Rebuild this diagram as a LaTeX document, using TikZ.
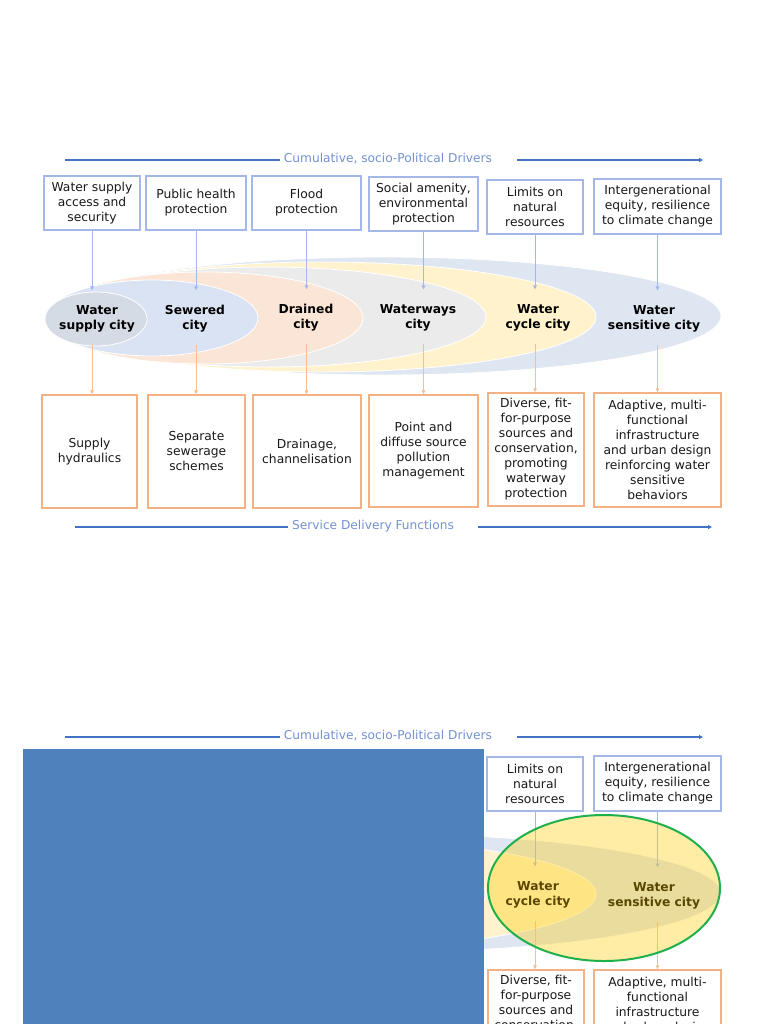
\documentclass[tikz,border=0pt]{standalone}
\usepackage{fontspec}
\setmainfont{DejaVu Sans}
\usetikzlibrary{arrows.meta}

\definecolor{flowblue}{HTML}{4472C4}
\definecolor{titleblue}{HTML}{7391D3}
\definecolor{driverline}{HTML}{A3B8E6}
\definecolor{serviceline}{HTML}{F4B183}
\definecolor{ringsensitive}{HTML}{DEE6F2}
\definecolor{ringcycle}{HTML}{FFF2CC}
\definecolor{ringwaterways}{HTML}{EBEBEB}
\definecolor{ringdrained}{HTML}{FBE5D6}
\definecolor{ringsewered}{HTML}{DAE3F3}
\definecolor{ringsupply}{HTML}{D5DBE5}
\definecolor{coverblue}{HTML}{4F81BD}
\definecolor{markgreen}{HTML}{1FAF4B}
\definecolor{markyellow}{HTML}{FFCC00}

\tikzset{
  boxtext/.style={font=\fontsize{12.3}{15}\selectfont, align=center, inner sep=0pt, text=black!90},
  driverbox/.style={boxtext, draw=driverline, line width=1.3pt, fill=white},
  servicebox/.style={boxtext, draw=serviceline, line width=1.3pt, fill=white},
  citylabel/.style={font=\bfseries\fontsize{12.3}{15}\selectfont, align=center, inner sep=1pt},
  ring/.style={draw=white, line width=0.8pt},
  flowline/.style={draw=flowblue, line width=1.5pt},
  flowtitle/.style={font=\fontsize{12.2}{14}\selectfont, text=titleblue, inner sep=4pt},
  driverarrow/.style={draw=driverline, line width=1pt, -{Triangle[length=4pt,width=3.5pt]}},
  servicearrow/.style={draw=serviceline!85, line width=1pt, -{Triangle[length=4pt,width=3.5pt]}},
}

\begin{document}
\begin{tikzpicture}[x=1pt,y=1pt,yscale=-1,xscale=1]

% Page
\clip (0,0) rectangle (768,1024);
\fill[white] (0,0) rectangle (768,1024);

\foreach \cp/\dy in {a/0, b/577} {
\begin{scope}[shift={(0,\dy)}]

  % Rings
  \fill[ringsensitive, ring] (383,316) ellipse [x radius=338, y radius=59];
  \fill[ringcycle, ring] (322,317) ellipse [x radius=274, y radius=55];
  \fill[ringwaterways, ring] (267,317) ellipse [x radius=219, y radius=50];
  \fill[ringdrained, ring] (205,318) ellipse [x radius=158, y radius=46];
  \fill[ringsewered, ring] (152,318) ellipse [x radius=106, y radius=38];
  \fill[ringsupply, ring] (96,319) ellipse [x radius=51, y radius=27];

  % Drivers arrow
  \node[flowtitle] (drvtitle\cp) at (388,159) {Cumulative, socio-Political Drivers};
  \coordinate (drvstart\cp) at (65,160);
  \coordinate (drvend\cp) at (703,160);
  \draw[flowline] (drvstart\cp) -- (drvtitle\cp.west |- drvstart\cp);
  \draw[flowline, shorten <=21, -{Triangle[length=4pt,width=4pt]}] (drvtitle\cp.east |- drvend\cp) -- (drvend\cp);

  % Drivers
  \node[driverbox, minimum width=96, minimum height=54] (drv1\cp) at (92,203) {Water supply\\access and\\security};
  \node[driverbox, minimum width=100, minimum height=54] (drv2\cp) at (196,203) {Public health\\protection};
  \node[driverbox, minimum width=109, minimum height=54] (drv3\cp) at (306.5,203) {Flood\\protection};
  \node[driverbox, minimum width=109, minimum height=54] (drv4\cp) at (423.5,204) {Social amenity,\\environmental\\protection};
  \node[driverbox, minimum width=96, minimum height=54] (drv5\cp) at (535,207) {Limits on\\natural\\resources};
  \node[driverbox, minimum width=127, minimum height=55] (drv6\cp) at (657.5,206.5) {Intergenerational\\equity, resilience\\to climate change};

  % Cities
  \node[citylabel] (cty1\cp) at (97,319) {Water\\supply city};
  \node[citylabel] (cty2\cp) at (195,319) {Sewered\\city};
  \node[citylabel] (cty3\cp) at (306,318) {Drained\\city};
  \node[citylabel] (cty4\cp) at (418,318) {Waterways\\city};
  \node[citylabel] (cty5\cp) at (538,318) {Water\\cycle city};
  \node[citylabel] (cty6\cp) at (654,319) {Water\\sensitive city};

  % Service functions
  \node[servicebox, minimum width=95, minimum height=113] (srv1\cp) at (89.5,451.5) {Supply\\hydraulics};
  \node[servicebox, minimum width=97, minimum height=113] (srv2\cp) at (196.5,451.5) {Separate\\sewerage\\schemes};
  \node[servicebox, minimum width=108, minimum height=113] (srv3\cp) at (307,451.5) {Drainage,\\channelisation};
  \node[servicebox, minimum width=109, minimum height=112] (srv4\cp) at (423.5,451) {Point and\\diffuse source\\pollution\\management};
  \node[servicebox, minimum width=96, minimum height=113] (srv5\cp) at (536,449.5) {Diverse, fit-\\for-purpose\\sources and\\conservation,\\promoting\\waterway\\protection};
  \node[servicebox, minimum width=127, minimum height=114] (srv6\cp) at (657.5,450) {Adaptive, multi-\\functional\\infrastructure\\and urban design\\reinforcing water\\sensitive\\behaviors};

  % Connectors
  \foreach \i in {1,...,6} {
    \draw[driverarrow, shorten >=14] (drv\i\cp.south) -- (drv\i\cp.south |- cty\i\cp.north);
    \draw[servicearrow, shorten <=11] (drv\i\cp.south |- cty\i\cp.south) -- (drv\i\cp.south |- srv\i\cp.north);
  }

  % Service arrow
  \node[flowtitle] (srvtitle\cp) at (373,526) {Service Delivery Functions};
  \coordinate (srvstart\cp) at (75,527);
  \coordinate (srvend\cp) at (712,527);
  \draw[flowline] (srvstart\cp) -- (srvtitle\cp.west |- srvstart\cp);
  \draw[flowline, shorten <=20, -{Triangle[length=4pt,width=4pt]}] (srvtitle\cp.east |- srvend\cp) -- (srvend\cp);

\end{scope}
}

% Cover and highlight on the second copy
\fill[coverblue] (23,749) rectangle (484,1030);
\draw[markgreen, line width=2pt, fill=markyellow, fill opacity=0.35] (604,888) ellipse [x radius=116, y radius=73];

\end{tikzpicture}
\end{document}
